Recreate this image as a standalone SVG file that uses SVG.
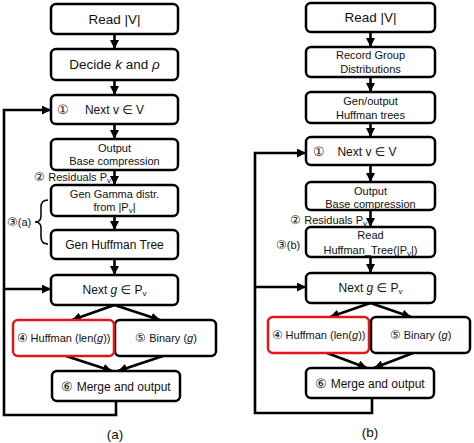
<svg xmlns="http://www.w3.org/2000/svg" width="474" height="443" viewBox="0 0 474 443">
<style>
.box{fill:#fff;stroke:#000;stroke-width:2.5}
.red{fill:#fff;stroke:#e0161b;stroke-width:2.5}
.t{font-family:"Liberation Sans","DejaVu Sans",sans-serif;fill:#111;text-anchor:middle}
.c{font-family:"DejaVu Sans",sans-serif;font-weight:300}
.s12{font-size:12px}
.s11{font-size:11px}
.s13{font-size:13.5px}
.ln{fill:none;stroke:#000;stroke-width:2.6}
.br{fill:none;stroke:#000;stroke-width:1.5}
.sub{font-size:8px}
</style>
<defs>
<marker id="ah" viewBox="0 0 10 10" refX="10" refY="5" markerWidth="9" markerHeight="9" markerUnits="userSpaceOnUse" orient="auto">
<path d="M0,0 L10,5 L0,10 z" fill="#000"/>
</marker>
</defs>

<g id="connectors">
<line class="ln" x1="114.5" y1="34" x2="114.5" y2="49" marker-end="url(#ah)"/>
<line class="ln" x1="114.5" y1="80" x2="114.5" y2="95" marker-end="url(#ah)"/>
<line class="ln" x1="114.5" y1="124" x2="114.5" y2="139" marker-end="url(#ah)"/>
<line class="ln" x1="114.5" y1="170" x2="114.5" y2="185" marker-end="url(#ah)"/>
<line class="ln" x1="114.5" y1="216" x2="114.5" y2="230" marker-end="url(#ah)"/>
<line class="ln" x1="114.5" y1="259" x2="114.5" y2="275" marker-end="url(#ah)"/>
<line class="ln" x1="114.5" y1="305" x2="72" y2="320" marker-end="url(#ah)"/>
<line class="ln" x1="114.5" y1="305" x2="160" y2="320" marker-end="url(#ah)"/>
<line class="ln" x1="66" y1="356" x2="112" y2="371" marker-end="url(#ah)"/>
<line class="ln" x1="163" y1="356" x2="118" y2="371" marker-end="url(#ah)"/>
<path class="ln" d="M116,401 V415 H4 V110 H51" marker-end="url(#ah)"/>
<line class="ln" x1="4" y1="289" x2="51" y2="289" marker-end="url(#ah)"/>
<path class="br" d="M48,200 Q41,200 41,207 V216 Q41,222 35,222 Q41,222 41,228 V237 Q41,244 48,244"/>
<line class="ln" x1="370.5" y1="32" x2="370.5" y2="47" marker-end="url(#ah)"/>
<line class="ln" x1="370.5" y1="77" x2="370.5" y2="92" marker-end="url(#ah)"/>
<line class="ln" x1="370.5" y1="123" x2="370.5" y2="137" marker-end="url(#ah)"/>
<line class="ln" x1="370.5" y1="165" x2="370.5" y2="182" marker-end="url(#ah)"/>
<line class="ln" x1="370.5" y1="210" x2="370.5" y2="227" marker-end="url(#ah)"/>
<line class="ln" x1="370.5" y1="257" x2="370.5" y2="273" marker-end="url(#ah)"/>
<line class="ln" x1="370.5" y1="303" x2="330" y2="317" marker-end="url(#ah)"/>
<line class="ln" x1="370.5" y1="303" x2="411" y2="317" marker-end="url(#ah)"/>
<line class="ln" x1="327" y1="353" x2="367" y2="368" marker-end="url(#ah)"/>
<line class="ln" x1="413" y1="353" x2="374" y2="368" marker-end="url(#ah)"/>
<path class="ln" d="M372,398 V413 H255 V153 H306" marker-end="url(#ah)"/>
<line class="ln" x1="255" y1="287" x2="306" y2="287" marker-end="url(#ah)"/>
</g>

<g id="a-read">
<rect class="box" x="51" y="4" width="127" height="30" rx="5"/>
<text class="t s13" x="114.5" y="24">Read |V|</text>
</g>
<g id="a-decide">
<rect class="box" x="51" y="49" width="127" height="31" rx="5"/>
<text class="t s13" x="114.5" y="69">Decide <tspan font-style="italic">k</tspan> and <tspan font-style="italic">ρ</tspan></text>
</g>
<g id="a-nextv">
<rect class="box" x="51" y="95" width="127" height="29" rx="5"/>
<text class="t c" x="63" y="114" font-size="13">①</text>
<text class="t s12" x="114.5" y="114">Next v ∈ V</text>
</g>
<g id="a-output">
<rect class="box" x="51" y="139" width="127" height="31" rx="5"/>
<text class="t s11" x="114.5" y="152">Output</text>
<text class="t s11" x="114.5" y="165">Base compression</text>
</g>
<g id="a-residuals">
<text class="t s11" x="111" y="181" style="text-anchor:end"><tspan class="c" font-size="12">②</tspan> Residuals P<tspan class="sub" dy="2">v</tspan></text>
</g>
<g id="a-gamma">
<rect class="box" x="51" y="185" width="127" height="31" rx="5"/>
<text class="t s11" x="114.5" y="198">Gen Gamma distr.</text>
<text class="t s11" x="114.5" y="211">from |P<tspan class="sub" dy="2">v</tspan><tspan dy="-2">|</tspan></text>
</g>
<g id="a-label3">
<text class="t s11" x="19" y="226"><tspan class="c" font-size="12">③</tspan>(a)</text>
</g>
<g id="a-genhuff">
<rect class="box" x="51" y="230" width="127" height="29" rx="5"/>
<text class="t s12" x="114.5" y="249">Gen Huffman Tree</text>
</g>
<g id="a-nextg">
<rect class="box" x="51" y="275" width="127" height="30" rx="5"/>
<text class="t s12" x="114.5" y="294">Next <tspan font-style="italic">g</tspan> ∈ P<tspan class="sub" dy="2">v</tspan></text>
</g>
<g id="a-binary">
<rect class="box" x="115" y="320" width="101" height="36" rx="5"/>
<text class="t s11" x="166" y="342"><tspan class="c" font-size="12">⑤</tspan> Binary (<tspan font-style="italic">g</tspan>)</text>
</g>
<g id="a-huffman">
<rect class="red" x="13" y="320" width="101" height="36" rx="5"/>
<text class="t s11" x="63.5" y="342"><tspan class="c" font-size="12">④</tspan> Huffman (len(<tspan font-style="italic">g</tspan>))</text>
</g>
<g id="a-merge">
<rect class="box" x="52" y="371" width="128" height="30" rx="5"/>
<text class="t s12" x="116" y="391"><tspan class="c" font-size="13">⑥</tspan> Merge and output</text>
</g>
<g id="a-caption">
<text class="t s13" x="115" y="439">(a)</text>
</g>

<g id="b-read">
<rect class="box" x="306" y="3" width="129" height="29" rx="5"/>
<text class="t s13" x="370.5" y="22">Read |V|</text>
</g>
<g id="b-record">
<rect class="box" x="306" y="47" width="129" height="30" rx="5"/>
<text class="t s11" x="370.5" y="59">Record Group</text>
<text class="t s11" x="370.5" y="73">Distributions</text>
</g>
<g id="b-genout">
<rect class="box" x="306" y="92" width="129" height="31" rx="5"/>
<text class="t s11" x="370.5" y="105">Gen/output</text>
<text class="t s11" x="370.5" y="119">Huffman trees</text>
</g>
<g id="b-nextv">
<rect class="box" x="306" y="137" width="129" height="28" rx="5"/>
<text class="t c" x="319" y="156" font-size="13">①</text>
<text class="t s12" x="367" y="156">Next v ∈ V</text>
</g>
<g id="b-output">
<rect class="box" x="306" y="182" width="129" height="28" rx="5"/>
<text class="t s11" x="370.5" y="195">Output</text>
<text class="t s11" x="370.5" y="208">Base compression</text>
</g>
<g id="b-residuals">
<text class="t s11" x="367" y="224" style="text-anchor:end"><tspan class="c" font-size="12">②</tspan> Residuals P<tspan class="sub" dy="2">v</tspan></text>
</g>
<g id="b-label3">
<text class="t s11" x="288" y="249"><tspan class="c" font-size="12">③</tspan>(b)</text>
</g>
<g id="b-readtree">
<rect class="box" x="306" y="227" width="129" height="30" rx="5"/>
<text class="t s11" x="370.5" y="239">Read</text>
<text class="t s11" x="370.5" y="254">Huffman_Tree(|P<tspan class="sub" dy="2">v</tspan><tspan dy="-2">|)</tspan></text>
</g>
<g id="b-nextg">
<rect class="box" x="306" y="273" width="129" height="30" rx="5"/>
<text class="t s12" x="370.5" y="292">Next <tspan font-style="italic">g</tspan> ∈ P<tspan class="sub" dy="2">v</tspan></text>
</g>
<g id="b-binary">
<rect class="box" x="371" y="317" width="99" height="36" rx="5"/>
<text class="t s11" x="420.5" y="339"><tspan class="c" font-size="12">⑤</tspan> Binary (<tspan font-style="italic">g</tspan>)</text>
</g>
<g id="b-huffman">
<rect class="red" x="268" y="317" width="101" height="36" rx="5"/>
<text class="t s11" x="318.5" y="339"><tspan class="c" font-size="12">④</tspan> Huffman (len(<tspan font-style="italic">g</tspan>))</text>
</g>
<g id="b-merge">
<rect class="box" x="306" y="368" width="128" height="30" rx="5"/>
<text class="t s12" x="370" y="388"><tspan class="c" font-size="13">⑥</tspan> Merge and output</text>
</g>
<g id="b-caption">
<text class="t s13" x="370" y="437">(b)</text>
</g>
</svg>
